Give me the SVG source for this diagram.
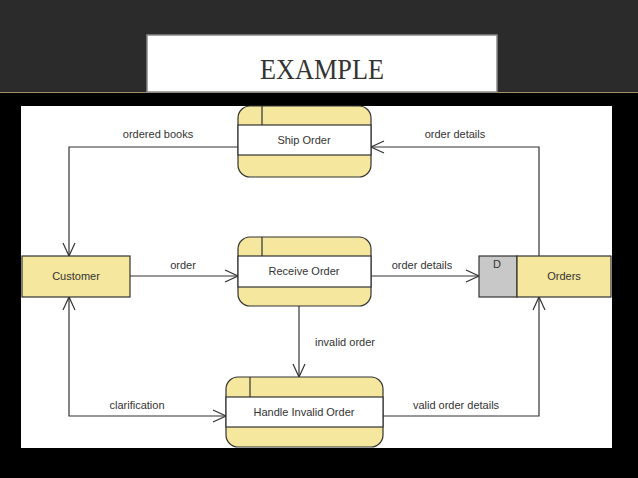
<svg xmlns="http://www.w3.org/2000/svg" width="638" height="478" viewBox="0 0 638 478">
<defs>
<marker id="a" markerWidth="16" markerHeight="14" refX="14" refY="7" orient="auto-start-reverse" markerUnits="userSpaceOnUse"><path d="M1,1 L14,7 L1,13" fill="none" stroke="#333" stroke-width="1.2"/></marker>
</defs>
<style>
.t{font-family:"Liberation Sans",Arial,sans-serif;font-size:11px;fill:#333;text-anchor:middle}
.c{fill:none;stroke:#333;stroke-width:1.2}
.p{fill:#f5e79e;stroke:#333;stroke-width:1.2}
</style>
<rect width="638" height="478" fill="#000"/>
<rect width="638" height="92" fill="#2b2b2b"/>
<line x1="0" y1="92.5" x2="638" y2="92.5" stroke="#a08f6a" stroke-width="1"/>
<rect x="147" y="35" width="350" height="57" fill="#fff" stroke="#888" stroke-width="1.5"/>
<text x="322" y="79" font-family="Liberation Serif,serif" font-size="30" fill="#333" text-anchor="middle" textLength="124" lengthAdjust="spacingAndGlyphs">EXAMPLE</text>
<rect x="21" y="106" width="591" height="342" fill="#fff"/>
<g id="connectors">
<path class="c" d="M539,256 V147 H371" marker-end="url(#a)"/>
<text class="t" x="455" y="138">order details</text>
<path class="c" d="M238,147 H69 V256" marker-end="url(#a)"/>
<text class="t" x="158" y="138">ordered books</text>
<path class="c" d="M130,276 H238" marker-end="url(#a)"/>
<text class="t" x="183" y="269">order</text>
<path class="c" d="M371,276 H479" marker-end="url(#a)"/>
<text class="t" x="422" y="269">order details</text>
<path class="c" d="M299,306 V377" marker-end="url(#a)"/>
<text class="t" x="345" y="346">invalid order</text>
<path class="c" d="M226,416 H69 V297" marker-start="url(#a)" marker-end="url(#a)"/>
<text class="t" x="137" y="409">clarification</text>
<path class="c" d="M383,416 H539 V297" marker-end="url(#a)"/>
<text class="t" x="456" y="409">valid order details</text>
</g>
<g id="ship">
<rect class="p" x="238" y="106" width="133" height="71" rx="12"/>
<rect x="238" y="125" width="133" height="30" fill="#fff" stroke="#333" stroke-width="1.2"/>
<line x1="262" y1="106" x2="262" y2="125" stroke="#333" stroke-width="1.2"/>
<text class="t" x="304" y="144">Ship Order</text>
</g>
<g id="receive">
<rect class="p" x="238" y="237" width="133" height="69" rx="12"/>
<rect x="238" y="256" width="133" height="31" fill="#fff" stroke="#333" stroke-width="1.2"/>
<line x1="262" y1="237" x2="262" y2="256" stroke="#333" stroke-width="1.2"/>
<text class="t" x="304" y="275">Receive Order</text>
</g>
<g id="handle">
<rect class="p" x="226" y="377" width="157" height="70" rx="12"/>
<rect x="226" y="397" width="157" height="30" fill="#fff" stroke="#333" stroke-width="1.2"/>
<line x1="250" y1="377" x2="250" y2="397" stroke="#333" stroke-width="1.2"/>
<text class="t" x="304" y="416">Handle Invalid Order</text>
</g>
<g id="customer">
<rect class="p" x="22" y="256" width="108" height="41"/>
<text class="t" x="76" y="280">Customer</text>
</g>
<g id="orders">
<rect x="479" y="256" width="38" height="41" fill="#c8c8c8" stroke="#333" stroke-width="1.2"/>
<rect class="p" x="517" y="256" width="94" height="41"/>
<text class="t" x="497" y="268">D</text>
<text class="t" x="564" y="280">Orders</text>
</g>
</svg>
